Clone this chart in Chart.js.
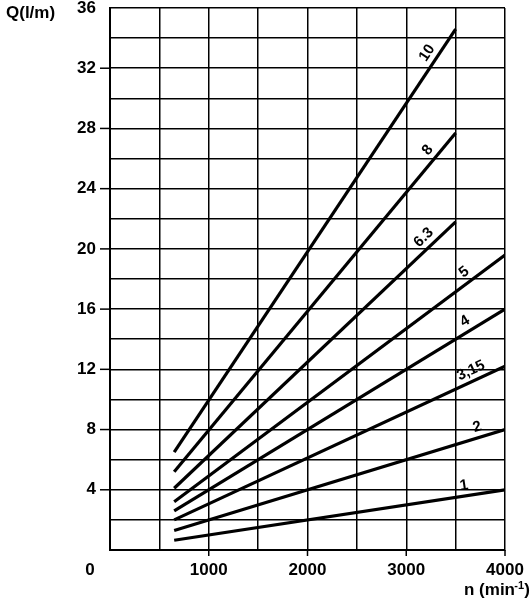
<!DOCTYPE html>
<html>
<head>
<meta charset="utf-8">
<script src="https://cdn.jsdelivr.net/npm/chart.js@4"></script>
<style>
  body { margin: 0; background: #fff; }
  #wrap { width: 531px; height: 600px; }
</style>
</head>
<body>
<div id="wrap"><canvas id="chart"></canvas></div>
<script>
// displacement curves: Q at start speed and end speed
const curveNames = ['10', '8', '6.3', '5', '4', '3,15', '2', '1'];
const startN = [650, 650, 650, 650, 650, 650, 650, 650];
const startQ = [6.5, 5.2, 4.1, 3.2, 2.6, 2.0, 1.3, 0.65];
const endN = [3500, 3500, 3500, 4000, 4000, 4000, 4000, 4000];
const endQ = [34.6, 27.7, 21.8, 19.6, 16.0, 12.2, 8.0, 4.0];
const labelN = [3300, 3300, 3250, 3650, 3650, 3700, 3750, 3600];

const xTicks = [1000, 2000, 3000, 4000];
const yTicks = [4, 8, 12, 16, 20, 24, 28, 32, 36];

const FONT = 'bold 17px "Liberation Sans", Arial, sans-serif';

const datasets = curveNames.map((name, i) => ({
  label: name,
  data: [{ x: startN[i], y: startQ[i] }, { x: endN[i], y: endQ[i] }],
  borderColor: '#000',
  borderWidth: 3.2,
  pointRadius: 0,
  showLine: true
}));

// draws tick labels, axis titles and the curve labels
const labelsPlugin = {
  id: 'labels',
  afterDraw(chart) {
    const ctx = chart.ctx;
    const xs = chart.scales.x, ys = chart.scales.y;
    ctx.save();
    ctx.fillStyle = '#000';
    ctx.strokeStyle = '#000';
    ctx.font = FONT;

    // y tick labels + small tick marks
    ctx.textAlign = 'right';
    ctx.textBaseline = 'middle';
    ctx.lineWidth = 1.5;
    yTicks.forEach(v => {
      const y = ys.getPixelForValue(v);
      ctx.fillText(String(v), 96, y);
      if (v % 4 === 0 && v < 36) {
        ctx.beginPath(); ctx.moveTo(100, y); ctx.lineTo(xs.left, y); ctx.stroke();
      }
    });

    // x tick labels
    ctx.textAlign = 'center';
    ctx.textBaseline = 'middle';
    xTicks.forEach(v => {
      const x = xs.getPixelForValue(v);
      ctx.fillText(String(v), x, 570);
      ctx.beginPath(); ctx.moveTo(x, ys.bottom); ctx.lineTo(x, ys.bottom + 6); ctx.stroke();
    });
    ctx.fillText('0', 90, 570);

    // axis titles
    ctx.textAlign = 'left';
    ctx.fillText('Q(l/m)', 6, 13);
    ctx.textAlign = 'right';
    ctx.fillText('n (min', 515, 590);
    ctx.font = 'bold 11px "Liberation Sans", Arial, sans-serif';
    ctx.fillText('-1', 524, 586);
    ctx.font = FONT;
    ctx.fillText(')', 530, 590);

    // curve labels along each line
    ctx.font = 'bold 15px "Liberation Sans", Arial, sans-serif';
    ctx.textAlign = 'center';
    ctx.textBaseline = 'bottom';
    curveNames.forEach((name, i) => {
      const x0 = xs.getPixelForValue(startN[i]), y0 = ys.getPixelForValue(startQ[i]);
      const x1 = xs.getPixelForValue(endN[i]), y1 = ys.getPixelForValue(endQ[i]);
      const ang = Math.atan2(y1 - y0, x1 - x0);
      const t = (labelN[i] - startN[i]) / (endN[i] - startN[i]);
      const px = x0 + (x1 - x0) * t, py = y0 + (y1 - y0) * t;
      ctx.save();
      ctx.translate(px, py);
      ctx.rotate(ang);
      ctx.fillText(name, 0, -3);
      ctx.restore();
    });
    ctx.restore();
  }
};

new Chart(document.getElementById('chart'), {
  type: 'scatter',
  data: { datasets },
  options: {
    responsive: true,
    maintainAspectRatio: false,
    animation: false,
    layout: { padding: { left: 110, top: 8, right: 26, bottom: 50 } },
    plugins: { legend: { display: false }, tooltip: { enabled: false } },
    scales: {
      x: {
        type: 'linear', min: 0, max: 4000,
        ticks: { display: false, stepSize: 500 },
        grid: { color: '#000', lineWidth: 1.5, drawTicks: false },
        border: { color: '#000', width: 2 }
      },
      y: {
        type: 'linear', min: 0, max: 36,
        ticks: { display: false, stepSize: 2 },
        grid: { color: '#000', lineWidth: 1.5, drawTicks: false },
        border: { color: '#000', width: 2 }
      }
    }
  },
  plugins: [labelsPlugin]
});
</script>
</body>
</html>
